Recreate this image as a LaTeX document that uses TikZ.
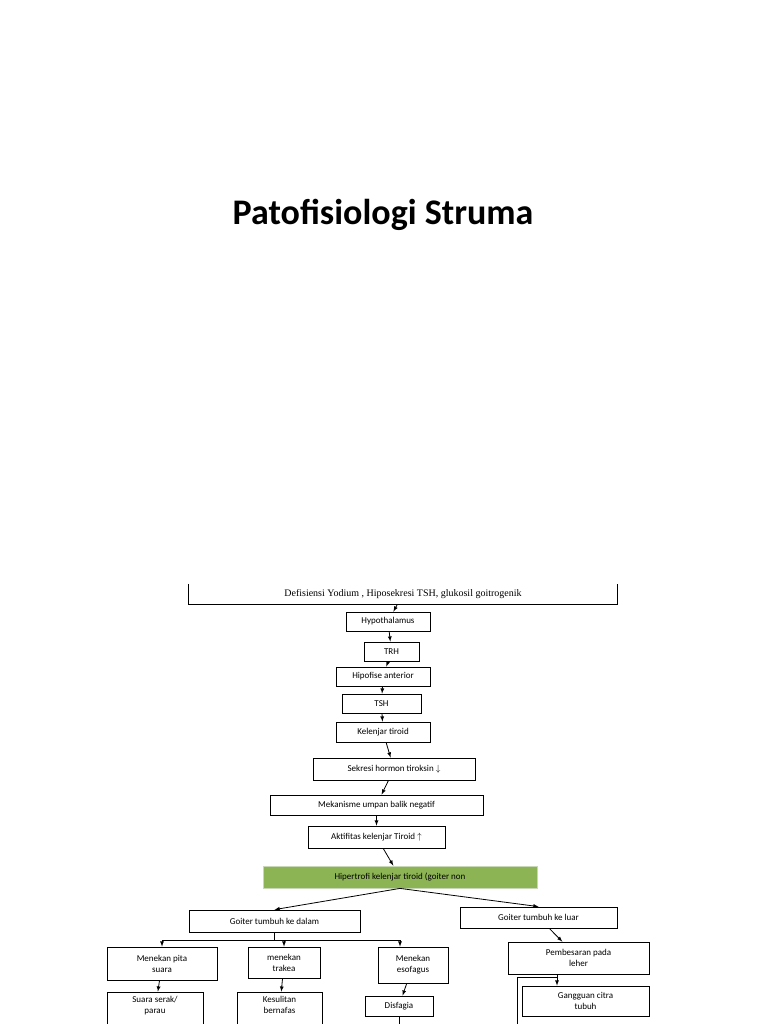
\documentclass[tikz,border=0pt]{standalone}
\usepackage{fontspec}
\setmainfont{Carlito}
\newfontfamily\serifx{Liberation Serif}
\begin{document}
\begin{tikzpicture}[x=1pt,y=-1pt,
  bx/.style={draw,thick,inner sep=0pt,align=center,font=\fontsize{9}{11}\selectfont},
  ar/.style={-latex,thick}]
\useasboundingbox (0,0) rectangle (768,1024);
\fill[white] (0,0) rectangle (768,1024);
\node[font=\fontsize{36}{40}\selectfont\bfseries] (title) at (383,215) {Patofisiologi Struma};
\newcommand\bxat[6]{\node[bx,minimum width=#3-#2,minimum height=#5-#4,#6] (#1) at ({(#2+#3)/2},{(#4+#5)/2})}
\node[inner sep=0pt,minimum width=428,minimum height=20,font=\serifx\fontsize{10}{12}\selectfont] (def) at (403,594) {Defisiensi Yodium , Hiposekresi TSH, glukosil goitrogenik};
\draw[thick] (def.north west) -- (def.south west) -- (def.south east) -- (def.north east);
\bxat{hyp}{346}{430}{612}{631}{}{Hypothalamus};
\bxat{trh}{364}{419}{642}{661}{}{TRH};
\bxat{hip}{336}{430}{667}{686}{}{Hipofise anterior};
\bxat{tsh}{342}{421}{694}{713}{}{TSH};
\bxat{kel}{336}{430}{722}{742}{}{Kelenjar tiroid};
\bxat{sek}{313}{475}{758}{780}{}{Sekresi hormon tiroksin $\downarrow$};
\bxat{mek}{270}{483}{795}{815}{}{Mekanisme umpan balik negatif};
\bxat{akt}{308}{445}{826}{848}{}{Aktifitas kelenjar Tiroid $\uparrow$};
\bxat{hpt}{263}{537}{866}{888}{fill={rgb,255:red,141;green,180;blue,84},draw={rgb,255:red,200;green,215;blue,180}}{Hipertrofi kelenjar tiroid (goiter non};
\bxat{gd}{189}{360}{910}{932}{}{Goiter tumbuh ke dalam};
\bxat{gl}{460}{617}{907}{928}{}{Goiter tumbuh ke luar};
\bxat{pita}{107}{217}{947}{980}{}{Menekan pita\\suara};
\bxat{tra}{248}{320}{947}{978}{}{menekan\\trakea};
\bxat{eso}{378}{448}{947}{983}{}{Menekan\\esofagus};
\bxat{pem}{508}{649}{942}{974}{}{Pembesaran pada\\leher};
\bxat{sua}{107}{203}{992}{1030}{}{Suara serak/\\parau\\[2pt]};
\bxat{kes}{237}{322}{992}{1030}{}{Kesulitan\\bernafas\\[2pt]};
\bxat{dis}{365}{433}{996}{1016}{}{Disfagia};
\bxat{gan}{522}{649}{986}{1016}{}{Gangguan citra\\tubuh};
\foreach \a/\b in {def/hyp,hyp/trh,trh/hip,hip/tsh,tsh/kel,kel/sek,sek/mek,mek/akt,akt/hpt,gl/pem,pita/sua,tra/kes,eso/dis}
  \draw[ar] (\a) -- (\b);
\draw[ar] (hpt.south) -- (gd.north);
\draw[ar] (hpt.south) -- (gl.north);
\coordinate (bl) at (162,940); \coordinate (br) at (400,940);
\draw[thick] (gd.south) -- (gd.south|-bl);
\draw[thick] (bl) -- (br);
\draw[ar] (bl) -- (pita.north-|bl);
\draw[ar] (tra.north|-bl) -- (tra.north);
\draw[ar] (br) -- (eso.north-|br);
\coordinate (pj) at (557,977);
\draw[thick] (pem.south-|pj) -- (pj);
\draw[ar] (pj) -- (gan.north-|pj);
\coordinate (pl) at (517,977);
\draw[thick] (pj) -- (pl) -- (517,1024);
\draw[thick] (dis.south) -- (dis.south|-0,1024);
\end{tikzpicture}
\end{document}
